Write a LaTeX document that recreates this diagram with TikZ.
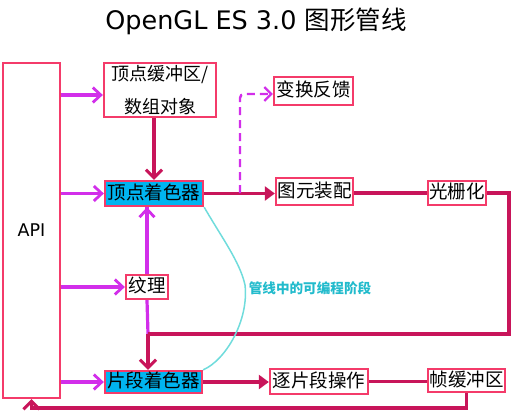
\documentclass[tikz,border=0pt]{standalone}
\usepackage{fontspec}
\setmainfont{DejaVu Sans}
\newfontfamily\cjk{Noto Sans CJK SC}
\usetikzlibrary{arrows.meta, positioning}

\definecolor{boxred}{HTML}{F43B6A}
\definecolor{magarr}{HTML}{D22EEA}
\definecolor{crim}{HTML}{C8155A}
\definecolor{shfill}{HTML}{00B4F0}
\definecolor{progcyan}{HTML}{22BBCC}
\definecolor{curvecyan}{HTML}{70DCDC}

\begin{document}
\begin{tikzpicture}[x=1pt, y=-1pt,
    stage/.style={draw=boxred, line width=2.3pt, inner sep=0pt, font=\cjk\fontsize{18.5}{20}\selectfont,
                  text height=14pt, text depth=3pt},
    shader/.style={stage, fill=shfill},
    api call/.style={magarr, line width=3.2pt, -{Straight Barb[length=8pt, width=15pt, line width=2.8pt]}},
    flow/.style={crim, line width=3.6pt},
    flow arrow/.style={flow, -{Triangle[length=10pt, width=14pt]}},
    flow barb/.style={flow, -{Straight Barb[length=8pt, width=16pt, line width=3pt]}}]
    \useasboundingbox (0,0) rectangle (512,418);

    \node (title) at (256,21) {\fontsize{25.5}{30}\selectfont OpenGL ES 3.0 {\cjk 图形管线}};

    \node [draw=boxred, line width=2.3pt, minimum width=57pt, minimum height=335pt, inner sep=0pt,
           font=\fontsize{17.5}{20}\selectfont] (api) at (31.5,230.5) {API};

    \node [stage, minimum width=112pt, minimum height=54pt, align=center, text height=, text depth=,
           font=\cjk\fontsize{18}{33}\selectfont] (vbo) at (160,90) {顶点缓冲区/\\数组对象};
    \node [stage, minimum width=79pt, minimum height=28pt] (xfb) at (313.5,91) {变换反馈};
    \node [shader, minimum width=98pt, minimum height=25pt] (vs) at (154,193.5) {顶点着色器};
    \node [stage, minimum width=77pt, minimum height=27pt] (prim) at (314.5,191.5) {图元装配};
    \node [stage, minimum width=58pt, minimum height=24pt] (rast) at (457,193) {光栅化};
    \node [stage, minimum width=42pt, minimum height=24pt] (tex) at (147,287) {纹理};
    \node [shader, minimum width=97pt, minimum height=22pt] (fs) at (153.5,382) {片段着色器};
    \node [stage, minimum width=98pt, minimum height=25pt] (pfo) at (319,381.5) {逐片段操作};
    \node [stage, minimum width=77pt, minimum height=23pt] (fb) at (466.5,380.5) {帧缓冲区};

    \coordinate (tap) at (240,193);
    \coordinate (merge) at (148,334);

    % calls from the API into the stages
    \draw [api call] (api.east |- vbo.west) ++(0,5) -- ([yshift=-5pt]vbo.west);
    \draw [api call] (api.east |- vs.west) -- (vs.west);
    \draw [api call] (api.east |- tex.west) -- (tex.west);
    \draw [api call] (api.east |- fs.west) -- (fs.west);
    \draw [magarr, line width=3.2pt] (tex.north) -- (tex.north |- vs.south);
    \draw [magarr, line width=3.2pt] (tex.south) -- (merge);
    \draw [magarr, line width=3.2pt, -{Straight Barb[length=8pt, width=15pt, line width=2.8pt]}]
        (tex.north |- vs.south) ++(0,10) -- (tex.north |- vs.south);

    % main pipeline
    \draw [flow barb] (vs.north |- vbo.south) -- (vs.north);
    \draw [flow arrow] (vs.east) -- (vs.east -| prim.west);
    \draw [flow] (prim.east |- rast.west) -- (rast.west);
    \draw [flow] (rast.east) -- ++(22,0) |- (merge);
    \draw [flow barb] (merge) -- (merge |- fs.north);
    \draw [flow arrow] (fs.east) -- (fs.east -| pfo.west);
    \draw [flow] (pfo.east) -- (pfo.east -| fb.west);
    \draw [flow barb] (fb.south) -- ++(0,15) -| (api.south);

    % transform feedback
    \draw [magarr, line width=2.4pt, dash pattern=on 8pt off 5pt, rounded corners=4pt,
           -{Straight Barb[length=7pt, width=14pt, line width=2.2pt]}] (tap) |- ([yshift=-3pt]xfb.west);

    % programmable stages
    \draw [curvecyan, line width=1.5pt] (vs.south east) .. controls (222,238) and (240,262) .. (245,285)
        .. controls (249,320) and (226,360) .. (fs.north east);
    \node [text=progcyan, font=\cjk\bfseries\fontsize{13.6}{15}\selectfont] (prog) at (310,288) {管线中的可编程阶段};
\end{tikzpicture}
\end{document}
